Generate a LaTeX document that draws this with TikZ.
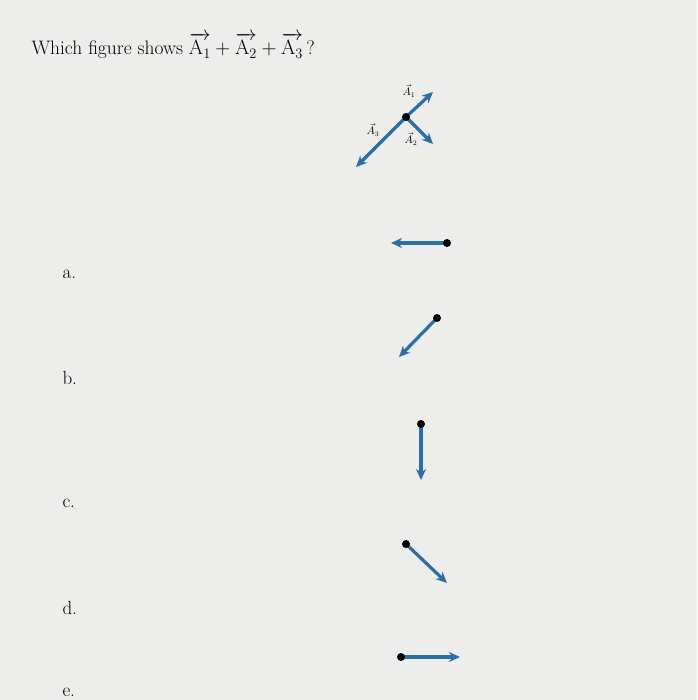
\documentclass[tikz,border=0pt]{standalone}
\usepackage{amsmath}
\usepackage{xcolor}
\usetikzlibrary{arrows.meta,positioning}
\definecolor{vecblue}{HTML}{2A6FA8}
\definecolor{paper}{HTML}{EDEDEB}
\begin{document}
\begin{tikzpicture}[x=1pt,y=-1pt,
    vec/.style={-{Stealth[length=11pt,width=10pt]},line width=3.2pt,draw=vecblue},
    tail/.style={circle,fill=black,inner sep=0pt,minimum size=8pt},
    choice/.style={anchor=base west,font=\fontsize{19}{22}\selectfont},
    veclabel/.style={font=\fontsize{10.5}{12}\selectfont}]
   \useasboundingbox[fill=paper] (0,0) rectangle (697,700);
   \node[anchor=base west,font=\fontsize{19.5}{22}\selectfont] (question) at (28,55)
      {Which figure shows $\overrightarrow{\mathrm{A}_1}+\overrightarrow{\mathrm{A}_2}+\overrightarrow{\mathrm{A}_3}$\,?};
   % the three vectors
   \coordinate (A1) at (433,92);
   \coordinate (A2) at (433,144);
   \coordinate (A3) at (356,167);
   \path[vec] (406,117) -- (A1);
   \path[vec] (406,117) -- (A2);
   \path[vec] (406,117) -- (A3);
   \node[tail] (o) at (406,117) {};
   \node[veclabel] (lA1) at (409,91)  {$\vec{A}_1$};
   \node[veclabel] (lA2) at (411,139) {$\vec{A}_2$};
   \node[veclabel] (lA3) at (373,130) {$\vec{A}_3$};
   % the choices
   \node[choice] (a) at (59,278) {a.};
   \node[choice] (b) at (59,384) {b.};
   \node[choice] (c) at (59,507) {c.};
   \node[choice] (d) at (59,614) {d.};
   \node[choice] (e) at (59,696) {e.};
   \coordinate (ta) at (391,243);
   \coordinate (tb) at (399,357);
   \coordinate (tc) at (421,480);
   \coordinate (td) at (447,583);
   \coordinate (te) at (460,657);
   \path[vec] (447,243) -- (ta);
   \path[vec] (437,318) -- (tb);
   \path[vec] (421,424) -- (tc);
   \path[vec] (406,544) -- (td);
   \path[vec] (401,657) -- (te);
   \node[tail] (oa) at (447,243) {};
   \node[tail] (ob) at (437,318) {};
   \node[tail] (oc) at (421,424) {};
   \node[tail] (od) at (406,544) {};
   \node[tail] (oe) at (401,657) {};
\end{tikzpicture}
\end{document}
